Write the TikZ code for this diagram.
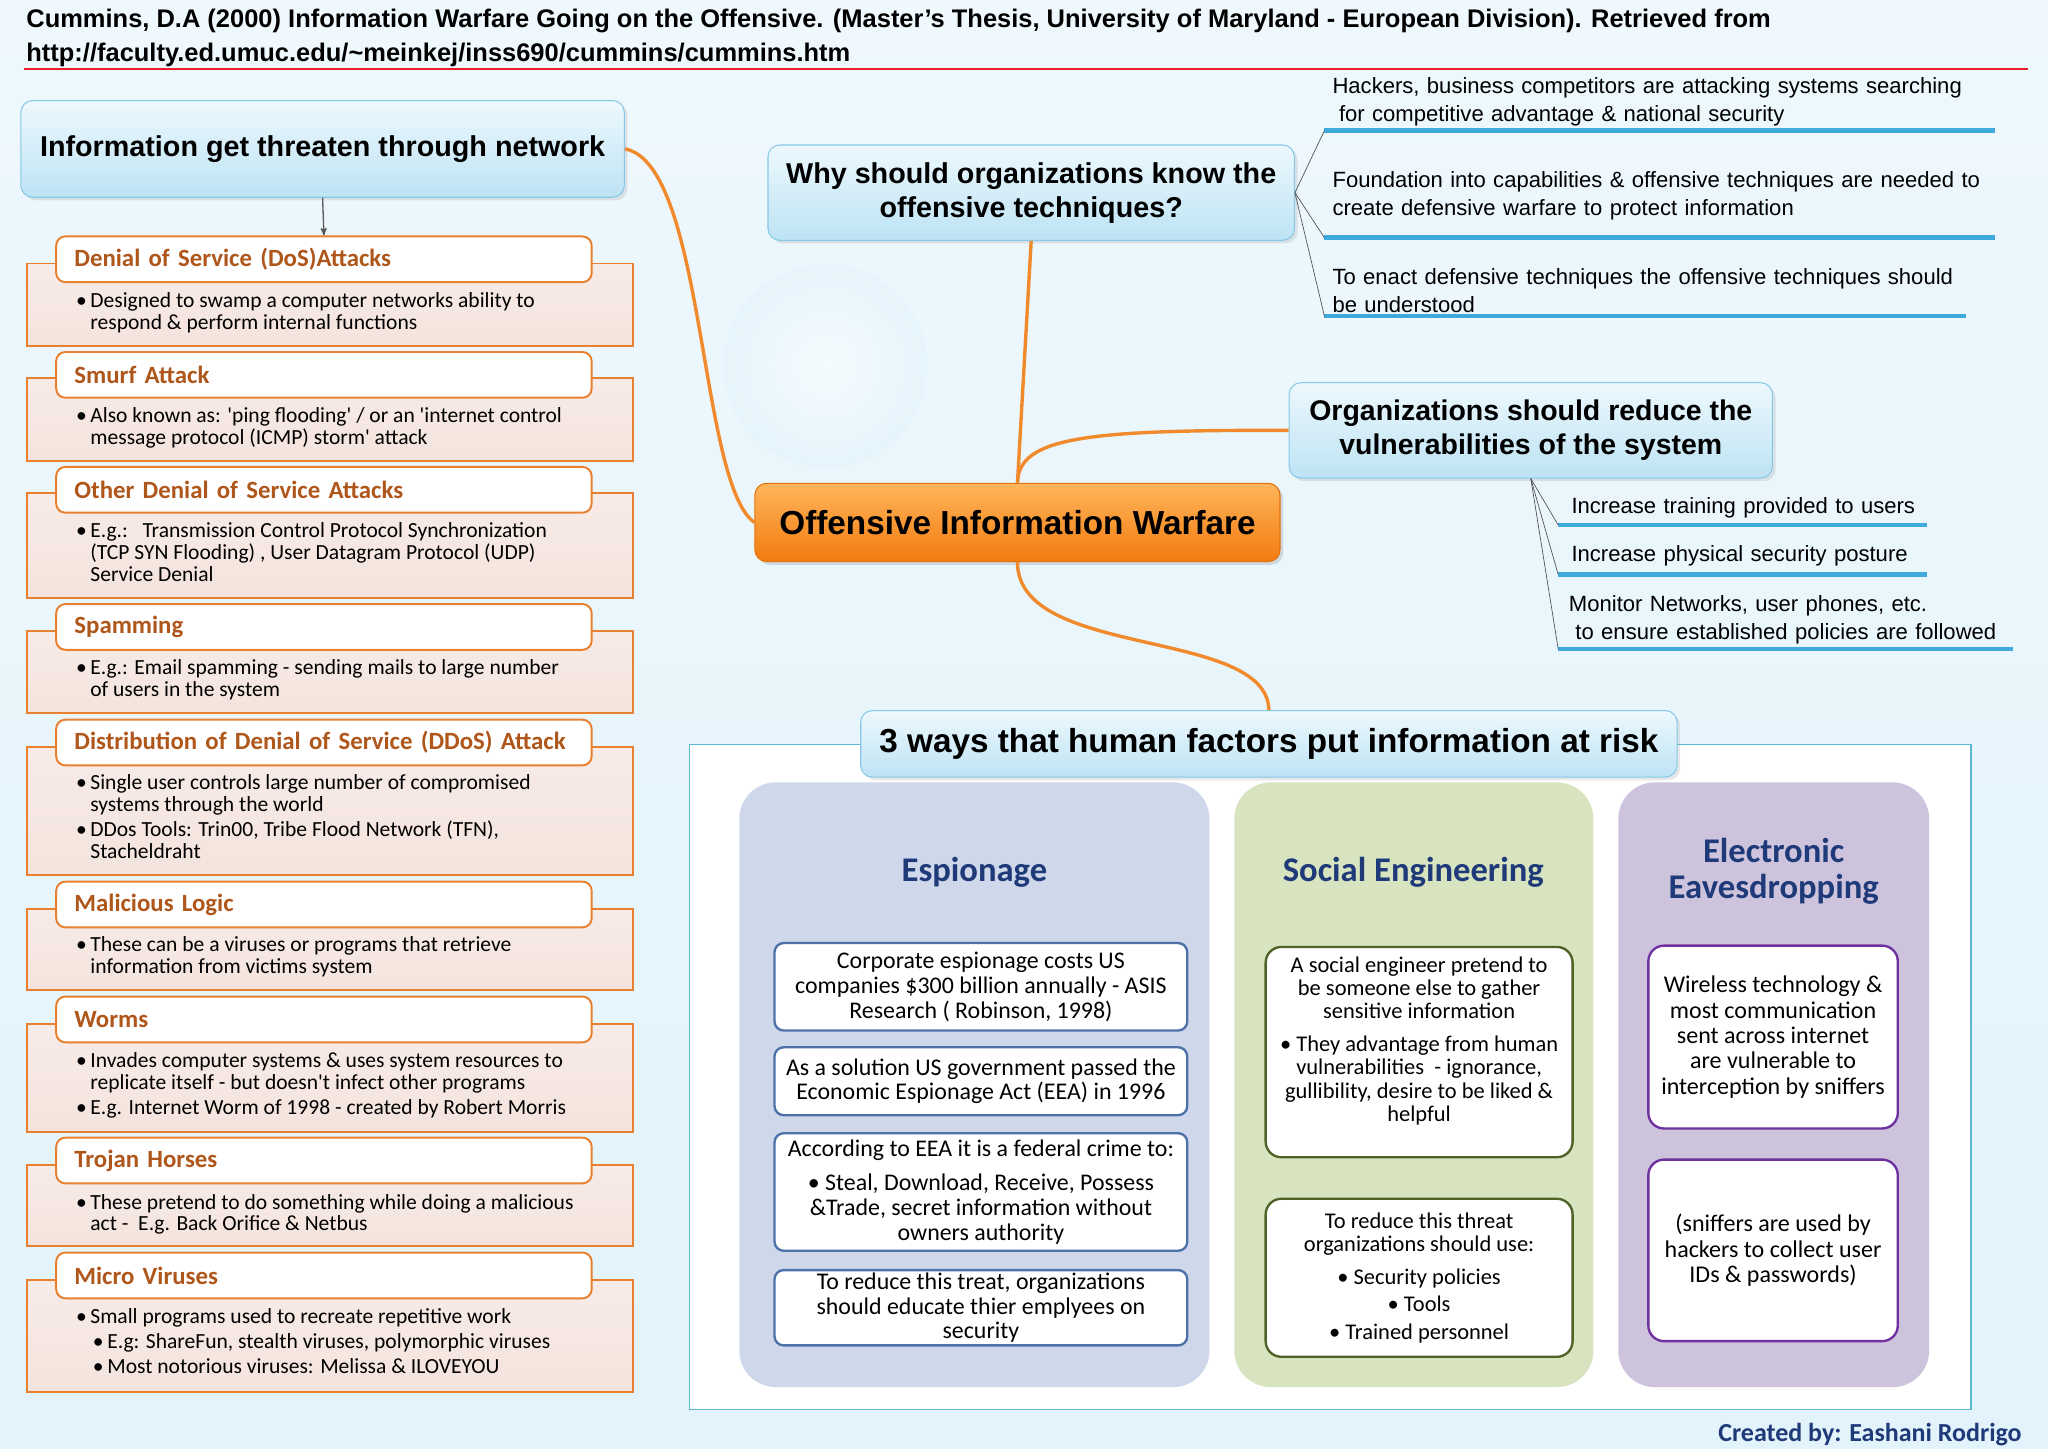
\documentclass[tikz,border=0pt]{standalone}
\usepackage{fontspec}
\setmainfont{Carlito}
\newfontfamily\arialf{Liberation Sans}
\usepackage{tikz}
\usetikzlibrary{shapes,arrows,positioning}
\usetikzlibrary{shadows}
\definecolor{bgtop}{HTML}{EEF8FD}
\definecolor{bgblue}{HTML}{E2F3FB}
\definecolor{topictop}{HTML}{EDF8FD}
\definecolor{topicbot}{HTML}{BDE3F4}
\definecolor{topicedge}{HTML}{86C8E6}
\definecolor{coretop}{HTML}{FFB55C}
\definecolor{corebot}{HTML}{F27B0E}
\definecolor{coreedge}{HTML}{E2730C}
\definecolor{branchorange}{HTML}{F08A2C}
\definecolor{ulineblue}{HTML}{3FA9DC}
\definecolor{warnorange}{HTML}{E8802F}
\definecolor{warnpink}{HTML}{F4E3DD}
\definecolor{headbrown}{HTML}{AF561B}
\definecolor{framecyan}{HTML}{5DB6D2}
\definecolor{titlenavy}{HTML}{1F3A78}
\definecolor{espfill}{HTML}{CED8EA}
\definecolor{espedge}{HTML}{4E72A8}
\definecolor{socfill}{HTML}{D8E4BF}
\definecolor{socedge}{HTML}{4F6228}
\definecolor{eavfill}{HTML}{CDC3DC}
\definecolor{eavedge}{HTML}{7031A0}
\definecolor{citered}{HTML}{E8202A}
\newcommand{\lbul}{\makebox[11pt][l]{\textbullet}}
\newcommand{\lind}{\hspace*{11pt}}
\newcommand{\sq}{\textquotesingle}
\tikzset{topic/.style={ % blue boxes of the mind map
           rounded corners=9pt, draw=topicedge, line width=0.8pt,
           top color=topictop, bottom color=topicbot,
           align=center, drop shadow={opacity=0.18},
           font=\arialf\bfseries\fontsize{22}{26}\selectfont},
         core/.style={        % the orange centre box
           rounded corners=9pt, draw=coreedge, line width=0.8pt,
           top color=coretop, bottom color=corebot,
           minimum width=402pt, minimum height=60pt,
           drop shadow={opacity=0.25},
           font=\arialf\bfseries\fontsize{25.5}{28}\selectfont},
         branch/.style={draw=branchorange, line width=2.6pt},
         twig/.style={draw=black!70, line width=0.5pt},
         leaf/.style={        % underlined texts on the right
           anchor=south west, inner xsep=6pt, align=left,
           font=\arialf\fontsize{16.9}{21.5}\selectfont},
         uline/.style={draw=ulineblue, line width=3.5pt},
         backbox/.style={     % orange body of a list item
           anchor=north west, draw=warnorange, line width=1.5pt,
           top color=warnpink!70, bottom color=warnpink, minimum width=464pt},
         headbox/.style={     % white heading of a list item
           rounded corners=7pt, draw=warnorange, line width=1.5pt, fill=white,
           minimum width=410pt, minimum height=35pt, inner xsep=14pt,
           text width=382pt, align=left, text=headbrown,
           font=\bfseries\fontsize{19}{21}\selectfont},
         bodytext/.style={anchor=north west, inner sep=0pt, align=left,
           font=\fontsize{16.5}{16.6}\selectfont},
         column/.style={rounded corners=28pt, inner sep=0pt, minimum height=463pt},
         coltitle/.style={align=center, text=titlenavy,
           font=\bfseries\fontsize{26.5}{28}\selectfont},
         card/.style={draw, fill=white, line width=1.8pt, rounded corners=7pt,
           align=center, inner sep=2pt, font=\fontsize{18.3}{19}\selectfont},
         cite/.style={anchor=base west, inner sep=0pt,
           font=\arialf\bfseries\fontsize{19.5}{22}\selectfont}}

\begin{document}
\begin{tikzpicture}[x=1pt, y=-1pt]
\useasboundingbox (0,0) rectangle (1568,1109);
\fill[top color=bgtop, bottom color=bgblue] (0,0) rectangle (1568,1109);
\shade[inner color=white, outer color=bgblue, opacity=0.5] (632,280) circle (78);

% reference at the top
\node[cite] (cite1) at (20,21) {Cummins, D.A (2000) Information Warfare Going on the Offensive. (Master’s Thesis, University of Maryland - European Division). Retrieved from};
\node[cite] (cite2) at (20,47) {http://faculty.ed.umuc.edu/\textasciitilde meinkej/inss690/cummins/cummins.htm};
\draw[citered, line width=1.8pt] (18,53) -- (1553,53);

% threats through the network
\node[topic, minimum width=462pt, minimum height=74pt] (info) at (247,114) {Information get threaten through network};

\node[backbox, minimum height=63pt] (dosback) at (20,201) {};
\node[headbox] (dos) at (248,198.5) {Denial of Service (DoS)Attacks};
\node[bodytext] (dostext) at (58,224) {\lbul Designed to swamp a computer networks ability to\\ \lind respond \& perform internal functions};

\node[backbox, minimum height=63pt] (smurfback) at (20,289) {};
\node[headbox] (smurf) at (248,287) {Smurf Attack};
\node[bodytext] (smurftext) at (58,312) {\lbul Also known as: \sq ping flooding\sq\ / or an \sq internet control\\ \lind message protocol (ICMP) storm\sq\ attack};

\node[backbox, minimum height=80pt] (otherback) at (20,377) {};
\node[headbox] (other) at (248,375) {Other Denial of Service Attacks};
\node[bodytext] (othertext) at (58,400) {\lbul E.g.:\ \ \ Transmission Control Protocol Synchronization\\ \lind (TCP SYN Flooding) , User Datagram Protocol (UDP)\\ \lind Service Denial};

\node[backbox, minimum height=63pt] (spamback) at (20,482) {};
\node[headbox] (spam) at (248,480) {Spamming};
\node[bodytext] (spamtext) at (58,505) {\lbul E.g.: Email spamming - sending mails to large number\\ \lind of users in the system};

\node[backbox, minimum height=98pt] (ddosback) at (20,571) {};
\node[headbox] (ddos) at (248,568.5) {Distribution of Denial of Service (DDoS) Attack};
\node[bodytext] (ddostext) at (58,593) {\lbul Single user controls large number of compromised\\ \lind systems through the world\\[2.5pt] \lbul DDos Tools: Trin00, Tribe Flood Network (TFN),\\ \lind Stacheldraht};

\node[backbox, minimum height=62pt] (logicback) at (20,695) {};
\node[headbox] (logic) at (248,692.5) {Malicious Logic};
\node[bodytext] (logictext) at (58,717) {\lbul These can be a viruses or programs that retrieve\\ \lind information from victims system};

\node[backbox, minimum height=83pt] (wormback) at (20,783) {};
\node[headbox] (worm) at (248,780.5) {Worms};
\node[bodytext] (wormtext) at (58,806) {\lbul Invades computer systems \& uses system resources to\\ \lind replicate itself - but doesn\sq t infect other programs\\[2.5pt] \lbul E.g. Internet Worm of 1998 - created by Robert Morris};

\node[backbox, minimum height=62pt] (trojanback) at (20,891) {};
\node[headbox] (trojan) at (248,888.5) {Trojan Horses};
\node[bodytext] (trojantext) at (58,914) {\lbul These pretend to do something while doing a malicious\\ \lind act -\ \ E.g. Back Orifice \& Netbus};

\node[backbox, minimum height=86pt] (microback) at (20,979) {};
\node[headbox] (micro) at (248,976.5) {Micro Viruses};
\node[bodytext] (microtext) at (58,1002) {\lbul Small programs used to recreate repetitive work\\[2.5pt] \hspace*{13pt}\lbul E.g: ShareFun, stealth viruses, polymorphic viruses\\[2.5pt] \hspace*{13pt}\lbul Most notorious viruses: Melissa \& ILOVEYOU};

\draw[->, >=stealth', draw=black!65, line width=1pt] (info.south) -- (dos.north);

% human factors
\draw[framecyan, line width=1.2pt, fill=white] (528,570) rectangle (1509,1079);

\node[column, fill=espfill, minimum width=360pt] (espcol) at (746,830.5) {};
\node[coltitle] (esptitle) at (746,668) {Espionage};
\node[card, draw=espedge, minimum width=316pt, minimum height=67pt] (espa) at (751,755.5) {Corporate espionage costs US\\companies \$300 billion annually - ASIS\\Research ( Robinson, 1998)};
\node[card, draw=espedge, minimum width=316pt, minimum height=52pt, below=11pt of espa] (espb) {As a solution US government passed the\\Economic Espionage Act (EEA) in 1996};
\node[card, draw=espedge, minimum width=316pt, minimum height=90pt, below=12pt of espb] (espc) {According to EEA it is a federal crime to:\\[7pt] \textbullet\ Steal, Download, Receive, Possess\\\&Trade, secret information without\\owners authority};
\node[card, draw=espedge, minimum width=316pt, minimum height=57pt, below=13pt of espc] (espd) {To reduce this treat, organizations\\should educate thier emplyees on\\security};

\node[column, fill=socfill, minimum width=275pt] (soccol) at (1082.5,830.5) {};
\node[coltitle] (soctitle) at (1082,668) {Social Engineering};
\node[card, draw=socedge, rounded corners=12pt, minimum width=235pt, minimum height=161pt, font=\fontsize{17.2}{17.9}\selectfont] (soca) at (1086.5,805.5) {A social engineer pretend to\\be someone else to gather\\sensitive information\\[7pt] \textbullet\ They advantage from human\\vulnerabilities\ \ - ignorance,\\gullibility, desire to be liked \&\\helpful\\[2pt] ~};
\node[card, draw=socedge, rounded corners=12pt, minimum width=235pt, minimum height=121pt, font=\fontsize{17.2}{17.9}\selectfont, below=30pt of soca] (socb) {To reduce this threat\\organizations should use:\\[7pt] \textbullet\ Security policies\\[3pt] \textbullet\ Tools\\[3pt] \textbullet\ Trained personnel};

\node[column, fill=eavfill, minimum width=238pt] (eavcol) at (1358,830.5) {};
\node[coltitle] (eavtitle) at (1358,667) {Electronic\\Eavesdropping};
\node[card, draw=eavedge, rounded corners=12pt, minimum width=191pt, minimum height=140pt, font=\fontsize{18.4}{19.4}\selectfont] (eava) at (1357.5,794) {Wireless technology \&\\most communication\\sent across internet\\are vulnerable to\\interception by sniffers};
\node[card, draw=eavedge, rounded corners=12pt, minimum width=191pt, minimum height=139pt, font=\fontsize{18.4}{19.4}\selectfont, below=22pt of eava] (eavb) {(sniffers are used by\\hackers to collect user\\IDs \& passwords)};

% mind map centre
\node[core] (oiw) at (779,400) {Offensive Information Warfare};
\node[topic, minimum width=403pt, minimum height=73pt] (why) at (789.5,147.5) {Why should organizations know the\\offensive techniques?};
\node[topic, minimum width=370pt, minimum height=73pt, font=\arialf\bfseries\fontsize{21.8}{26}\selectfont] (org) at (1172,329.5) {Organizations should reduce the\\vulnerabilities of the system};
\node[topic, minimum width=625pt, minimum height=51pt, font=\arialf\bfseries\fontsize{25.5}{28}\selectfont] (ways) at (971.5,569.5) {3 ways that human factors put information at risk};

\draw[branch] (info.east) .. controls (540,125) and (535,370) .. (oiw.west);
\draw[branch] (oiw.north) -- (why.south);
\draw[branch] (oiw.north) .. controls (780,335) and (830,329) .. (org.west);
\draw[branch] (oiw.south) .. controls (779,505) and (970,480) .. (ways.north);

% why know the offensive techniques
\node[leaf, text width=501pt, inner ysep=3.5pt] (hackers) at (1014,100) {Hackers, business competitors are attacking systems searching\\\hspace*{5pt}for competitive advantage \& national security};
\node[leaf, text width=501pt, inner ysep=13.5pt] (found) at (1014,182) {Foundation into capabilities \& offensive techniques are needed to\\create defensive warfare to protect information};
\node[leaf, text width=479pt, inner ysep=2.5pt] (enact) at (1014,242) {To enact defensive techniques the offensive techniques should\\be understood};
\draw[uline] (hackers.south west) -- (hackers.south east);
\draw[uline] (found.south west) -- (found.south east);
\draw[uline] (enact.south west) -- (enact.south east);
\draw[twig] (why.east) -- (hackers.south west);
\draw[twig] (why.east) -- (found.south west);
\draw[twig] (why.east) -- (enact.south west);

% reduce the vulnerabilities
\node[leaf, inner xsep=10pt, text width=262pt, inner ysep=5.5pt] (train) at (1193,402) {\mbox{Increase training provided to users}};
\node[leaf, inner xsep=10pt, text width=262pt, inner ysep=6.5pt] (phys) at (1193,440) {\mbox{Increase physical security posture}};
\node[leaf, inner xsep=8pt, text width=332pt, inner ysep=3.5pt] (monitor) at (1193,497) {Monitor Networks, user phones, etc.\\\hspace*{5pt}to ensure established policies are followed};
\draw[uline] (train.south west) -- (train.south east);
\draw[uline] (phys.south west) -- (phys.south east);
\draw[uline] (monitor.south west) -- (monitor.south east);
\draw[twig] (org.south) -- (train.south west);
\draw[twig] (org.south) -- (phys.south west);
\draw[twig] (org.south) -- (monitor.south west);

\node[anchor=base east, inner sep=0pt, text=titlenavy, font=\bfseries\fontsize{19.9}{22}\selectfont] (credit) at (1548,1104) {Created by: Eashani Rodrigo};
\end{tikzpicture}
\end{document}
